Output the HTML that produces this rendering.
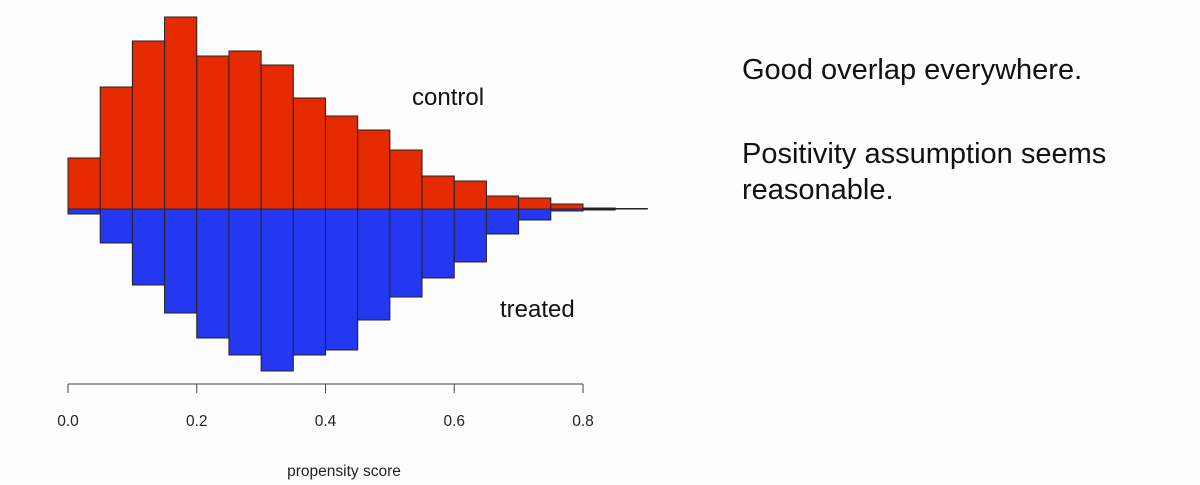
<!DOCTYPE html>
<html><head><meta charset="utf-8"><style>
body{margin:0;background:#fdfdfd;width:1200px;height:485px;overflow:hidden;font-family:"Liberation Sans",sans-serif}
.t{position:absolute;left:742px;font-size:29px;color:#111;line-height:36px}
</style></head><body>
<svg width="1200" height="485" style="position:absolute;left:0;top:0">
<g id="bars"></g><g id="axis"></g>
<text x="412" y="105" font-size="24" font-family="Liberation Sans" fill="#111">control</text>
<text x="500" y="317" font-size="24" font-family="Liberation Sans" fill="#111">treated</text>
<text x="344" y="476" font-size="15.5" text-anchor="middle" font-family="Liberation Sans" fill="#222">propensity score</text>
</svg>
<div class="t" style="top:52px">Good overlap everywhere.</div>
<div class="t" style="top:136px">Positivity assumption seems<br>reasonable.</div>
<script>
const binStarts=[0,0.05,0.1,0.15,0.2,0.25,0.3,0.35,0.4,0.45,0.5,0.55,0.6,0.65,0.7,0.75,0.8,0.85];
const controlVals=[51,122,168,192,153,158,144,111,93,79,59,33,28,13,11,5,1,0.5];
const treatedVals=[5,34,76,104,129,146,162,146,141,111,88,69,53,25,11,2,1,0];
const tickVals=[0,0.2,0.4,0.6,0.8];
const tickLabels=["0.0","0.2","0.4","0.6","0.8"];
const binW=0.05;
const X=v=>68+v*(583-68)/0.8;
const base=209;
const H=v=>v*1.0;
const ns="http://www.w3.org/2000/svg";
const bars=document.getElementById('bars');
function rect(x,y,w,h,fill,name){const r=document.createElementNS(ns,'rect');
r.setAttribute('x',x);r.setAttribute('y',y);r.setAttribute('width',w);r.setAttribute('height',Math.max(h,0.5));
r.setAttribute('fill',fill);r.setAttribute('stroke','#222');r.setAttribute('stroke-width','1');


bars.appendChild(r);}
binStarts.forEach((b,i)=>{const x=X(b),w=X(b+binW)-X(b);
rect(x,base-H(controlVals[i]),w,H(controlVals[i]),'#e62a00','control-bar');
if(treatedVals[i]>0)rect(x,base,w,H(treatedVals[i]),'#2438f2','treated-bar');});
const ax=document.getElementById('axis');
const l=document.createElementNS(ns,'line');
l.setAttribute('x1',X(0));l.setAttribute('x2',X(0.8));l.setAttribute('y1',384);l.setAttribute('y2',384);l.setAttribute('stroke','#444');


ax.appendChild(l);
tickVals.forEach((v,i)=>{const t=document.createElementNS(ns,'line');
t.setAttribute('x1',X(v));t.setAttribute('x2',X(v));t.setAttribute('y1',384);t.setAttribute('y2',393);t.setAttribute('stroke','#444');


ax.appendChild(t);
const tx=document.createElementNS(ns,'text');
tx.setAttribute('x',X(v));tx.setAttribute('y',426);tx.setAttribute('text-anchor','middle');tx.setAttribute('font-size','15.5');tx.setAttribute('fill','#222');tx.setAttribute('font-family','Liberation Sans');
tx.textContent=tickLabels[i];


ax.appendChild(tx);});
</script>
</body></html>
